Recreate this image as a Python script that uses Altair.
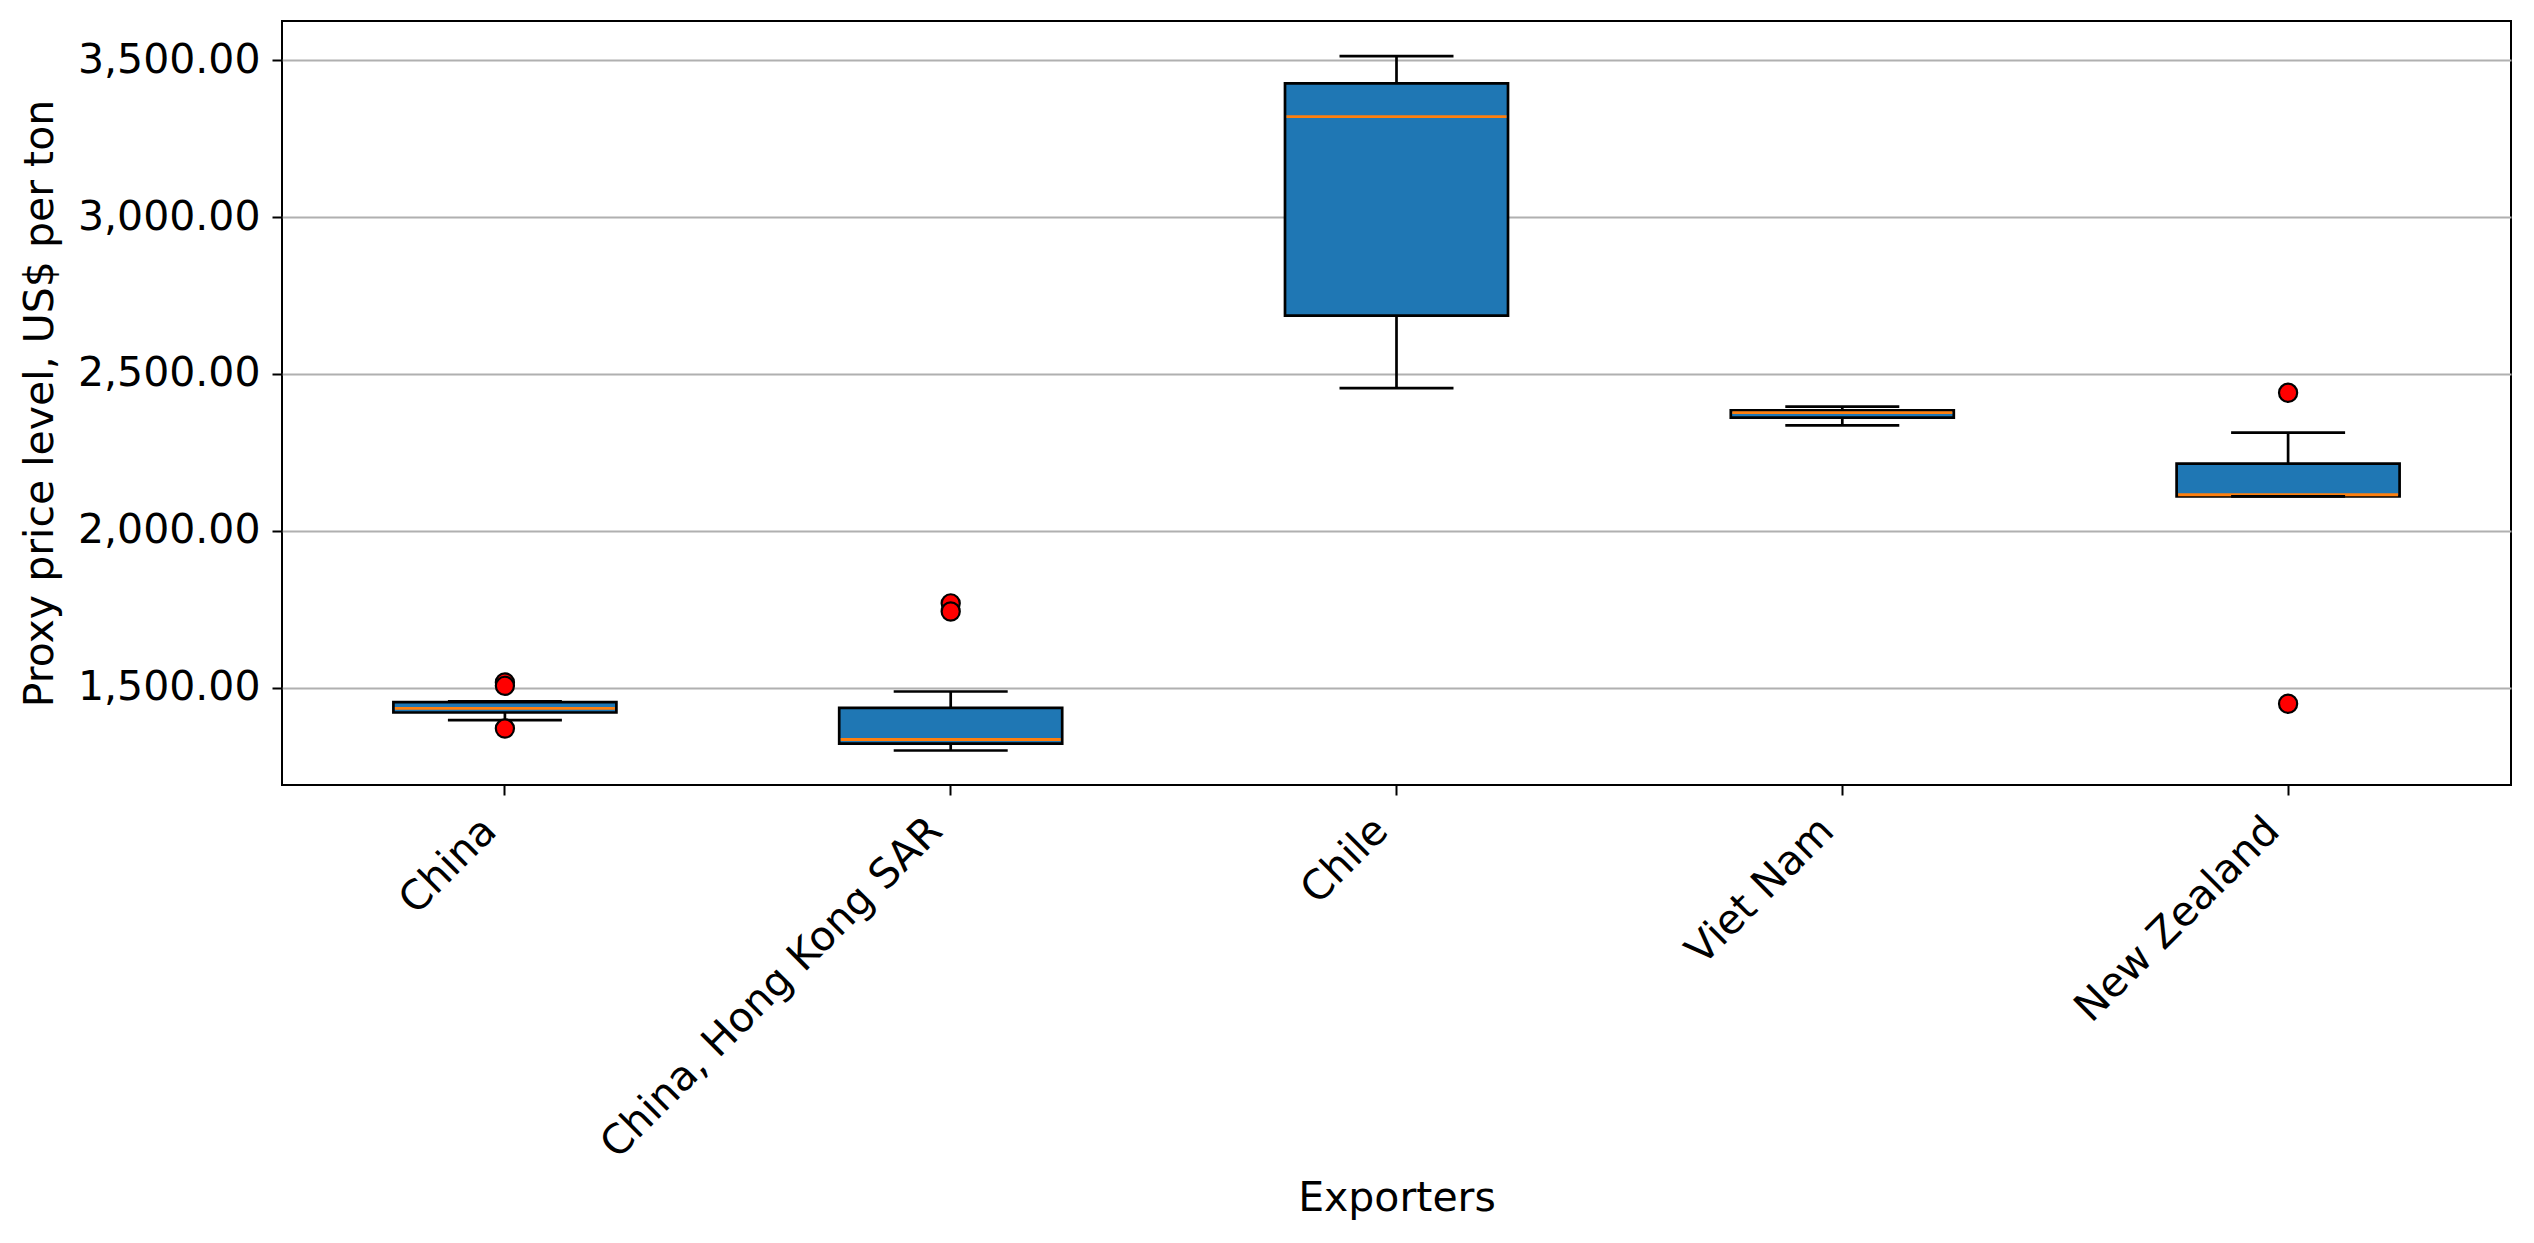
import altair as alt
import pandas as pd

# box statistics (US$ per ton)
exporters = ["China", "China, Hong Kong SAR", "Chile", "Viet Nam", "New Zealand"]
whisker_low = [1397, 1300, 2455, 2336, 2110]
q1 = [1421, 1322, 2686, 2361, 2110]
median = [1434, 1335, 3320, 2377, 2115]
q3 = [1454, 1436, 3426, 2384, 2214]
whisker_high = [1457, 1488, 3513, 2396, 2313]

# fliers
outlier_exporter = ["China", "China", "China", "China, Hong Kong SAR",
                    "China, Hong Kong SAR", "New Zealand", "New Zealand"]
outlier_value = [1517, 1506, 1370, 1769, 1743, 2440, 1449]

y_ticks = [1500, 2000, 2500, 3000, 3500]

boxes = pd.DataFrame({
    "exporter": exporters,
    "lo": whisker_low,
    "q1": q1,
    "median": median,
    "q3": q3,
    "hi": whisker_high,
})
fliers = pd.DataFrame({"exporter": outlier_exporter, "value": outlier_value})

x = alt.X(
    "exporter:N",
    sort=exporters,
    title="Exporters",
    scale=alt.Scale(paddingInner=0, paddingOuter=0),
    axis=alt.Axis(labelAngle=-45, labelAlign="right", labelBaseline="bottom",
                  labelPadding=44, titlePadding=193, grid=False, labelLimit=0),
)
y_scale = alt.Scale(domain=[1190, 3625], nice=False, zero=False)
y_axis = alt.Axis(values=y_ticks, format=",.2f", grid=True, gridColor="#b0b0b0",
                  gridWidth=2, labelPadding=12, titlePadding=21, labelLimit=0)

base = alt.Chart(boxes).encode(x=x)

whiskers = base.mark_rule(color="black", strokeWidth=2.7).encode(
    y=alt.Y("lo:Q", scale=y_scale, axis=y_axis,
            title="Proxy price level, US$ per ton"),
    y2="hi:Q",
)
box = base.mark_bar(size=223, color="#1f77b4", stroke="black",
                    strokeWidth=2.7).encode(y="q1:Q", y2="q3:Q")
med = base.mark_tick(size=220, thickness=2.8, color="#ff7f0e",
                     opacity=1).encode(y="median:Q")
cap_lo = base.mark_tick(size=114, thickness=2.7, color="black",
                        opacity=1).encode(y="lo:Q")
cap_hi = base.mark_tick(size=114, thickness=2.7, color="black",
                        opacity=1).encode(y="hi:Q")
points = alt.Chart(fliers).mark_point(
    shape="circle", fill="#ff0000", stroke="black", strokeWidth=2.2,
    size=330, opacity=1, fillOpacity=1,
).encode(x=alt.X("exporter:N", sort=exporters), y="value:Q")

chart = (
    alt.layer(whiskers, box, med, cap_lo, cap_hi, points)
    .properties(
        width=2229,
        height=764,
        autosize=alt.AutoSizeParams(type="none"),
        padding={"left": 274, "top": 13, "right": 10, "bottom": 440},
    )
    .configure_view(stroke="black", strokeWidth=2)
    .configure_axis(
        labelFont="DejaVu Sans", titleFont="DejaVu Sans",
        labelFontSize=41, titleFontSize=41, titleFontWeight="normal",
        labelColor="black", titleColor="black",
        tickColor="black", tickWidth=2, tickSize=10, domain=False,
    )
)

chart.save("out.html", embed_options={"renderer": "svg", "actions": False})
